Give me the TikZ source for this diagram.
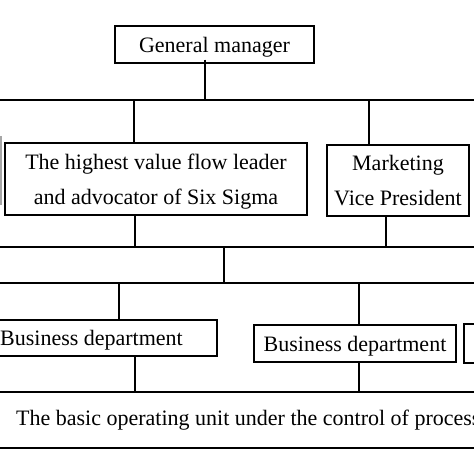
\documentclass[tikz,border=0pt]{standalone}
\usepackage{fontspec}
\setmainfont{Liberation Serif}
\usepackage{tikz}
\usetikzlibrary{calc,positioning}

\tikzset{
  unitbox/.style={draw, line width=1.2pt, inner sep=0pt, align=center,
    text depth=-2pt, font=\fontsize{22}{35}\selectfont},
  link/.style={line width=1.2pt}
}

\begin{document}
\begin{tikzpicture}[x=1pt,y=-1pt]
  \useasboundingbox (0,0) rectangle (474,474);
  \clip (0,0) rectangle (474,474);
  % boxes
  \node[unitbox, minimum width=199pt, minimum height=37pt] (gm) at (214.5,44.5) {General manager};
  \node[unitbox, minimum width=302pt, minimum height=72pt] (lead) at (156,179)
    {The highest value flow leader\\and advocator of Six Sigma};
  \node[unitbox, minimum width=142pt, minimum height=71pt] (mvp) at (398,180.5)
    {Marketing\\Vice President};
  \node[unitbox, minimum width=251pt, minimum height=36pt] (busA) at (91.5,338) {Business department};
  \node[unitbox, minimum width=202pt, minimum height=37pt] (busB) at (355,343.5) {Business department};
  \node[unitbox, minimum width=100pt, minimum height=39pt] (busC) at (514,343.5) {};
  \node[font=\fontsize{22}{35}\selectfont, anchor=west, inner sep=0pt, text depth=-2pt] (unit) at (16,418)
    {The basic operating unit under the control of process};
  % bus lines
  \coordinate (b1l) at (0,100);   \coordinate (b1r) at (474,100);
  \coordinate (b2l) at (0,247);   \coordinate (b2r) at (474,247);
  \coordinate (b3l) at (0,283);   \coordinate (b3r) at (474,283);
  \coordinate (b4l) at (0,392);   \coordinate (b4r) at (474,392);
  \coordinate (b5l) at (0,448);   \coordinate (b5r) at (474,448);
  \foreach \b in {1,...,5}
    \draw[link] (b\b l) -- (b\b r);
  % drop positions
  \coordinate (xgm) at (205,0);
  \coordinate (xla) at (134,0);
  \coordinate (xlb) at (135,0);
  \coordinate (xma) at (369,0);
  \coordinate (xmb) at (386,0);
  \coordinate (xmid) at (224,0);
  \coordinate (xba) at (119,0);
  \coordinate (xbb) at (135,0);
  \coordinate (xbc) at (359,0);
  % drops
  \draw[link] ($(xgm |- gm.south)+(0,-4)$) -- (xgm |- b1l);
  \draw[link] (xla |- b1l) -- (xla |- lead.north);
  \draw[link] (xma |- b1l) -- (xma |- mvp.north);
  \draw[link] (xlb |- lead.south) -- (xlb |- b2l);
  \draw[link] (xmb |- mvp.south) -- (xmb |- b2l);
  \draw[link] (xmid |- b2l) -- (xmid |- b3l);
  \draw[link] (xba |- b3l) -- (xba |- busA.north);
  \draw[link] (xbc |- b3l) -- (xbc |- busB.north);
  \draw[link] (xbb |- busA.south) -- (xbb |- b4l);
  \draw[link] (xbc |- busB.south) -- (xbc |- b4l);
  % edge mark at left
  \draw[gray!70, line width=2pt] (1,136) -- (1,205);
\end{tikzpicture}
\end{document}
